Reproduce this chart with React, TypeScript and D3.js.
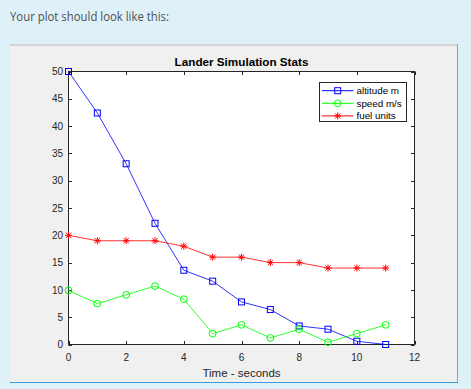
import React from "react";
import * as d3 from "d3";

const time = [0, 1, 2, 3, 4, 5, 6, 7, 8, 9, 10, 11];
const altitude = [50, 42.4, 33.1, 22.2, 13.6, 11.6, 7.8, 6.4, 3.4, 2.8, 0.6, 0];
const speed = [9.9, 7.5, 9.1, 10.7, 8.3, 2.0, 3.6, 1.2, 2.8, 0.4, 2.0, 3.6];
const fuel = [20, 19, 19, 19, 18, 16, 16, 15, 15, 14, 14, 14];
const xTicks = [0, 2, 4, 6, 8, 10, 12];
const yTicks = [0, 5, 10, 15, 20, 25, 30, 35, 40, 45, 50];
const seriesNames = ["altitude m", "speed m/s", "fuel units"];
const seriesColors = ["#0000ff", "#00ff00", "#ff0000"];
const seriesMarkers = ["square", "circle", "star"];

const W = 471;
const H = 389;
const L = 68.5, R = 414.5, T = 71.5, B = 344.5;

function Marker({ kind, x, y, color }: { kind: string; x: number; y: number; color: string }) {
  if (kind === "square") {
    return <rect x={x - 3} y={y - 3} width={6} height={6} fill="none" stroke={color} strokeWidth={1} />;
  }
  if (kind === "circle") {
    return <circle cx={x} cy={y} r={3.4} fill="none" stroke={color} strokeWidth={1} />;
  }
  const s = 3.5;
  const d = 2.6;
  return (
    <path
      d={`M${x - s},${y}L${x + s},${y}M${x},${y - s}L${x},${y + s}M${x - d},${y - d}L${x + d},${y + d}M${x - d},${y + d}L${x + d},${y - d}`}
      stroke={color}
      strokeWidth={1}
      fill="none"
    />
  );
}

export default function App() {
  const x = d3.scaleLinear().domain([0, 12]).range([L, R]);
  const y = d3.scaleLinear().domain([0, 50]).range([B, T]);
  const series = [altitude, speed, fuel];
  const line = (vals: number[]) =>
    d3
      .line<number>()
      .x((_, i) => x(time[i]))
      .y((v) => y(v))(vals) || "";
  const axisColor = "#262626";
  const font = "'Liberation Sans', Arial, sans-serif";

  const lgX = 319.5, lgY = 82.5, lgW = 87, lgH = 39;

  return (
    <svg width={W} height={H} style={{ position: "absolute", left: 0, top: 0 }} xmlns="http://www.w3.org/2000/svg">
      <rect x={0} y={0} width={W} height={H} fill="#def1f8" />
      <text x={10} y={20.5} fontFamily="'Open Sans', 'Noto Sans', sans-serif" fontSize={12.5} fill="#505050" textLength={159} lengthAdjust="spacingAndGlyphs">
        Your plot should look like this:
      </text>
      {/* panel */}
      <rect x={10} y={44} width={448} height={338} fill="#f0f0f0" />
      <rect x={10} y={44} width={448} height={2} fill="#d4d4d4" />
      <rect x={457} y={44} width={1} height={339} fill="#6ea8dc" />
      <rect x={10} y={382} width={448} height={1} fill="#3b9be0" />

      {/* axes area */}
      <rect x={L} y={T} width={R - L} height={B - T} fill="#ffffff" />
      <text x={(L + R) / 2} y={66} textAnchor="middle" fontFamily={font} fontWeight="bold" fontSize={11.7} fill="#000">
        Lander Simulation Stats
      </text>

      {/* ticks */}
      {xTicks.map((t) => (
        <g key={"xt" + t}>
          <line x1={Math.round(x(t)) + 0.5} x2={Math.round(x(t)) + 0.5} y1={B} y2={B - 3.5} stroke={axisColor} />
          <line x1={Math.round(x(t)) + 0.5} x2={Math.round(x(t)) + 0.5} y1={T} y2={T + 3.5} stroke={axisColor} />
          <text x={x(t)} y={361} textAnchor="middle" fontFamily={font} fontSize={10} fill={axisColor}>
            {t}
          </text>
        </g>
      ))}
      {yTicks.map((t) => (
        <g key={"yt" + t}>
          <line x1={L} x2={L + 3.5} y1={Math.round(y(t)) + 0.5} y2={Math.round(y(t)) + 0.5} stroke={axisColor} />
          <line x1={R} x2={R - 3.5} y1={Math.round(y(t)) + 0.5} y2={Math.round(y(t)) + 0.5} stroke={axisColor} />
          <text x={63} y={y(t) + 3.6} textAnchor="end" fontFamily={font} fontSize={10} fill={axisColor}>
            {t}
          </text>
        </g>
      ))}
      <rect x={L} y={T} width={R - L} height={B - T} fill="none" stroke={axisColor} strokeWidth={1} />
      <text x={(L + R) / 2} y={377} textAnchor="middle" fontFamily={font} fontSize={11.5} fill={axisColor}>
        Time - seconds
      </text>

      {/* series */}
      {series.map((vals, si) => (
        <g key={"s" + si}>
          <path d={line(vals)} fill="none" stroke={seriesColors[si]} strokeWidth={1} strokeOpacity={0.8} />
          {vals.map((v, i) => (
            <Marker key={i} kind={seriesMarkers[si]} x={x(time[i])} y={y(v)} color={seriesColors[si]} />
          ))}
        </g>
      ))}

      {/* legend */}
      <rect x={lgX} y={lgY} width={lgW} height={lgH} fill="#fff" stroke={axisColor} strokeWidth={1} />
      {seriesNames.map((name, i) => {
        const cy = 90.7 + i * 12.6;
        return (
          <g key={"lg" + i}>
            <line x1={322} x2={353.5} y1={cy} y2={cy} stroke={seriesColors[i]} strokeWidth={1} />
            <Marker kind={seriesMarkers[i]} x={337.7} y={cy} color={seriesColors[i]} />
            <text x={356.5} y={cy + 3.5} fontFamily={font} fontSize={9.8} fill="#000">
              {name}
            </text>
          </g>
        );
      })}
    </svg>
  );
}
